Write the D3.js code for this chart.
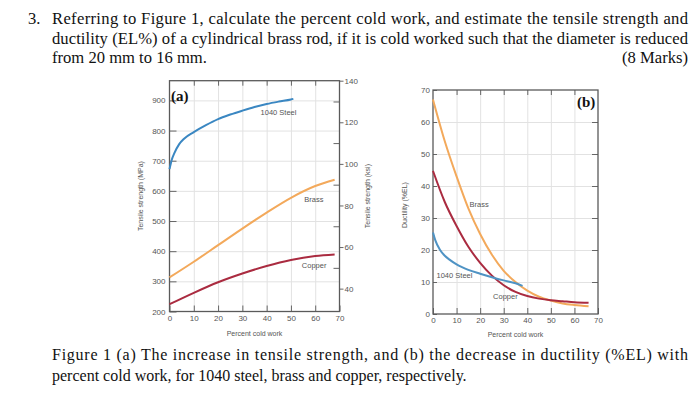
<!DOCTYPE html>
<html><head><meta charset="utf-8">
<script src="https://cdn.jsdelivr.net/npm/d3@7"></script>
<style>
html,body{margin:0;padding:0;background:#fff;}
svg{display:block;}
</style></head>
<body>
<svg id="c" width="700" height="395"></svg>
<script>
// ---------- data ----------
const questionLines = [
  "Referring to Figure 1, calculate the percent cold work, and estimate the tensile strength and",
  "ductility (EL%) of a cylindrical brass rod, if it is cold worked such that the diameter is reduced",
  "from 20 mm to 16 mm."
];
const questionNumber = "3.";
const marksText = "(8 Marks)";
const captionLines = [
  "Figure 1 (a) The increase in tensile strength, and (b) the decrease in ductility (%EL) with",
  "percent cold work, for 1040 steel, brass and copper, respectively."
];

// (a) tensile strength (MPa) vs percent cold work
const steelA_cw  = [0, 1, 2, 4, 6, 10, 15, 20, 25, 30, 35, 40, 45, 50, 51];
const steelA_ts  = [672, 705, 725, 755, 773, 795, 818, 838, 853, 866, 878, 888, 896, 903, 905];
const brassA_cw  = [0, 10, 20, 30, 40, 50, 60, 68];
const brassA_ts  = [313, 365, 420, 475, 528, 577, 616, 637];
const copperA_cw = [0, 10, 20, 30, 40, 50, 60, 68];
const copperA_ts = [224, 262, 297, 326, 351, 371, 384, 389];

// (b) ductility (%EL) vs percent cold work
const steelB_cw  = [0, 1, 3, 5, 7, 10, 15, 20, 25, 30, 35, 38];
const steelB_el  = [25.5, 23, 20, 18.2, 17, 15.5, 13.8, 12.6, 11.5, 10.5, 9.6, 8.8];
const brassB_cw  = [0, 5, 10, 15, 20, 25, 30, 35, 40, 45, 50, 55, 60, 66];
const brassB_el  = [67, 54, 43, 33, 25, 18.5, 13.5, 10, 7.3, 5.4, 4.2, 3.3, 2.8, 2.4];
const copperB_cw = [0, 5, 10, 15, 20, 25, 30, 35, 40, 45, 50, 55, 60, 66];
const copperB_el = [44.7, 35, 27.5, 21, 16, 12, 9, 6.9, 5.6, 4.8, 4.3, 4.0, 3.7, 3.5];

const xTicks = [0, 10, 20, 30, 40, 50, 60, 70];
const mpaTicks = [200, 300, 400, 500, 600, 700, 800, 900];
const ksiTicks = [40, 50, 60, 70, 80, 90, 100, 110, 120, 130, 140];
const ksiLabelTicks = [40, 60, 80, 100, 120, 140];
const elTicks = [0, 10, 20, 30, 40, 50, 60, 70];

const seriesLabels = {steel: "1040 Steel", brass: "Brass", copper: "Copper"};
const xTitle = "Percent cold work";
const yTitleA = "Tensile strength (MPa)";
const yTitleA2 = "Tensile strength (ksi)";
const yTitleB = "Ductility (%EL)";

// ---------- style ----------
const COL = {steelA: "#3a87c2", steelB: "#4f93c4", brass: "#f3a95b", copper: "#aa2b40",
             frame: "#5a5a5a", grid: "#e2e2e2", text: "#555", tick: "#666"};
const SANS = "Liberation Sans, Arial, sans-serif";
const SERIF = "Liberation Serif, 'Times New Roman', serif";

const svg = d3.select("#c");

// ---------- text ----------
const q = svg.append("g").attr("font-family", SERIF).attr("fill", "#111");
const qs = 16.6;
q.append("text").attr("x", 28).attr("y", 24).attr("font-size", qs).text(questionNumber);
q.append("text").attr("x", 52).attr("y", 24).attr("font-size", qs).attr("textLength", 636).attr("lengthAdjust", "spacing").text(questionLines[0]);
q.append("text").attr("x", 52).attr("y", 43.5).attr("font-size", qs).attr("textLength", 636).attr("lengthAdjust", "spacing").text(questionLines[1]);
q.append("text").attr("x", 52).attr("y", 63).attr("font-size", qs).text(questionLines[2]);
q.append("text").attr("x", 688).attr("y", 63).attr("font-size", qs).attr("text-anchor", "end").text(marksText);
q.append("text").attr("x", 52).attr("y", 360).attr("font-size", 16).attr("textLength", 636).attr("lengthAdjust", "spacing").text(captionLines[0]);
q.append("text").attr("x", 52).attr("y", 381).attr("font-size", 16).text(captionLines[1]);

// ---------- helpers ----------
function frame(g, x, y) {
  const [x0, x1] = x.range(), [y0, y1] = y.range();
  g.append("rect").attr("x", x0).attr("y", y1).attr("width", x1 - x0).attr("height", y0 - y1)
    .attr("fill", "none").attr("stroke", COL.frame).attr("stroke-width", 1.3);
}
function line(g, x, y, xs, ys, color) {
  const pts = xs.map((d, i) => [d, ys[i]]);
  g.append("path").datum(pts)
    .attr("d", d3.line().x(d => x(d[0])).y(d => y(d[1])).curve(d3.curveMonotoneX))
    .attr("fill", "none").attr("stroke", color).attr("stroke-width", 2);
}
function label(g, px, py, txt, anchor) {
  g.append("text").attr("x", px).attr("y", py).attr("text-anchor", anchor || "start")
    .attr("font-family", SANS).attr("font-size", 7.5).attr("fill", COL.text).text(txt);
}
const gridStyle = g => { g.select(".domain").remove(); g.selectAll("line").attr("stroke", COL.grid); };
const axStyle = g => { g.select(".domain").remove(); g.selectAll("line").attr("stroke", COL.tick);
  g.selectAll("text").attr("font-family", SANS).attr("font-size", 8).attr("fill", COL.text); };
function yTitle(g, px, py, txt) {
  g.append("text").attr("transform", `translate(${px},${py}) rotate(-90)`)
    .attr("text-anchor", "middle").attr("font-family", SANS).attr("font-size", 7).attr("fill", COL.text).text(txt);
}

// ---------- chart (a) ----------
const xA = d3.scaleLinear().domain([0, 70]).range([169.5, 339.5]);
const yA = d3.scaleLinear().domain([200, 965.3]).range([311.5, 80.7]);
const yK = d3.scaleLinear().domain([200 / 6.895, 965.3 / 6.895]).range([311.5, 80.7]);
const gA = svg.append("g");

gA.append("g").attr("transform", `translate(0,${yA.range()[0]})`)
  .call(d3.axisBottom(xA).tickValues(xTicks.slice(1, -1)).tickSize(-(yA.range()[0] - yA.range()[1])).tickFormat(""))
  .call(gridStyle);
gA.append("g").attr("transform", `translate(${xA.range()[0]},0)`)
  .call(d3.axisLeft(yA).tickValues(mpaTicks.slice(1)).tickSize(-(xA.range()[1] - xA.range()[0])).tickFormat(""))
  .call(gridStyle);

gA.append("g").attr("transform", `translate(0,${yA.range()[0]})`)
  .call(d3.axisBottom(xA).tickValues(xTicks).tickSizeInner(-6).tickSizeOuter(0).tickPadding(4))
  .call(axStyle);
gA.append("g").attr("transform", `translate(0,${yA.range()[1]})`)
  .call(d3.axisTop(xA).tickValues(xTicks.slice(1, -1)).tickSizeInner(-5).tickSizeOuter(0).tickFormat(""))
  .call(axStyle);
gA.append("g").attr("transform", `translate(${xA.range()[0]},0)`)
  .call(d3.axisLeft(yA).tickValues(mpaTicks).tickSizeInner(-7).tickSizeOuter(0).tickPadding(4))
  .call(axStyle);
gA.append("g").attr("transform", `translate(${xA.range()[1]},0)`)
  .call(d3.axisRight(yK).tickValues(ksiLabelTicks).tickSizeInner(4).tickSizeOuter(0).tickPadding(1))
  .call(axStyle);
gA.append("g").attr("transform", `translate(${xA.range()[1]},0)`)
  .call(d3.axisRight(yK).tickValues(ksiTicks.filter(t => !ksiLabelTicks.includes(t))).tickSizeInner(-6).tickSizeOuter(0).tickFormat(""))
  .call(axStyle);
frame(gA, xA, yA);

line(gA, xA, yA, steelA_cw, steelA_ts, COL.steelA);
line(gA, xA, yA, brassA_cw, brassA_ts, COL.brass);
line(gA, xA, yA, copperA_cw, copperA_ts, COL.copper);

label(gA, xA(37.5), yA(851), seriesLabels.steel);
label(gA, xA(55.5), yA(563), seriesLabels.brass);
label(gA, xA(54.5), yA(343), seriesLabels.copper);

gA.append("text").attr("x", 171).attr("y", 101).attr("font-family", SERIF).attr("font-weight", "bold")
  .attr("font-size", 15).attr("fill", "#111").text("(a)");

yTitle(gA, 143, (yA.range()[0] + yA.range()[1]) / 2, yTitleA);
yTitle(gA, 370, (yA.range()[0] + yA.range()[1]) / 2, yTitleA2);
gA.append("text").attr("x", (xA.range()[0] + xA.range()[1]) / 2).attr("y", 335.5)
  .attr("text-anchor", "middle").attr("font-family", SANS).attr("font-size", 7).attr("fill", COL.text).text(xTitle);

// ---------- chart (b) ----------
const xB = d3.scaleLinear().domain([0, 70]).range([433, 598]);
const yB = d3.scaleLinear().domain([0, 70]).range([314, 90]);
const gB = svg.append("g");

gB.append("g").attr("transform", `translate(0,${yB.range()[0]})`)
  .call(d3.axisBottom(xB).tickValues(xTicks.slice(1, -1)).tickSize(-(yB.range()[0] - yB.range()[1])).tickFormat(""))
  .call(gridStyle);
gB.append("g").attr("transform", `translate(${xB.range()[0]},0)`)
  .call(d3.axisLeft(yB).tickValues(elTicks.slice(1, -1)).tickSize(-(xB.range()[1] - xB.range()[0])).tickFormat(""))
  .call(gridStyle);

gB.append("g").attr("transform", `translate(0,${yB.range()[0]})`)
  .call(d3.axisBottom(xB).tickValues(xTicks).tickSizeInner(-6).tickSizeOuter(0).tickPadding(3))
  .call(axStyle);
gB.append("g").attr("transform", `translate(0,${yB.range()[1]})`)
  .call(d3.axisTop(xB).tickValues(xTicks.slice(1, -1)).tickSizeInner(-5).tickSizeOuter(0).tickFormat(""))
  .call(axStyle);
gB.append("g").attr("transform", `translate(${xB.range()[0]},0)`)
  .call(d3.axisLeft(yB).tickValues(elTicks).tickSizeInner(-4).tickSizeOuter(0).tickPadding(3))
  .call(axStyle);
gB.append("g").attr("transform", `translate(${xB.range()[1]},0)`)
  .call(d3.axisRight(yB).tickValues(elTicks.slice(1, -1)).tickSizeInner(-6).tickSizeOuter(0).tickFormat(""))
  .call(axStyle);
frame(gB, xB, yB);

line(gB, xB, yB, brassB_cw, brassB_el, COL.brass);
line(gB, xB, yB, copperB_cw, copperB_el, COL.copper);
line(gB, xB, yB, steelB_cw, steelB_el, COL.steelB);

label(gB, xB(15.5), yB(33.3), seriesLabels.brass);
label(gB, xB(1.5), yB(11.1), seriesLabels.steel);
label(gB, xB(25.5), yB(4.8), seriesLabels.copper);

gB.append("text").attr("x", 577).attr("y", 107).attr("font-family", SERIF).attr("font-weight", "bold")
  .attr("font-size", 15).attr("fill", "#111").text("(b)");

yTitle(gB, 407, 205, yTitleB);
gB.append("text").attr("x", (xB.range()[0] + xB.range()[1]) / 2).attr("y", 337)
  .attr("text-anchor", "middle").attr("font-family", SANS).attr("font-size", 7).attr("fill", COL.text).text(xTitle);
</script>
</body></html>
